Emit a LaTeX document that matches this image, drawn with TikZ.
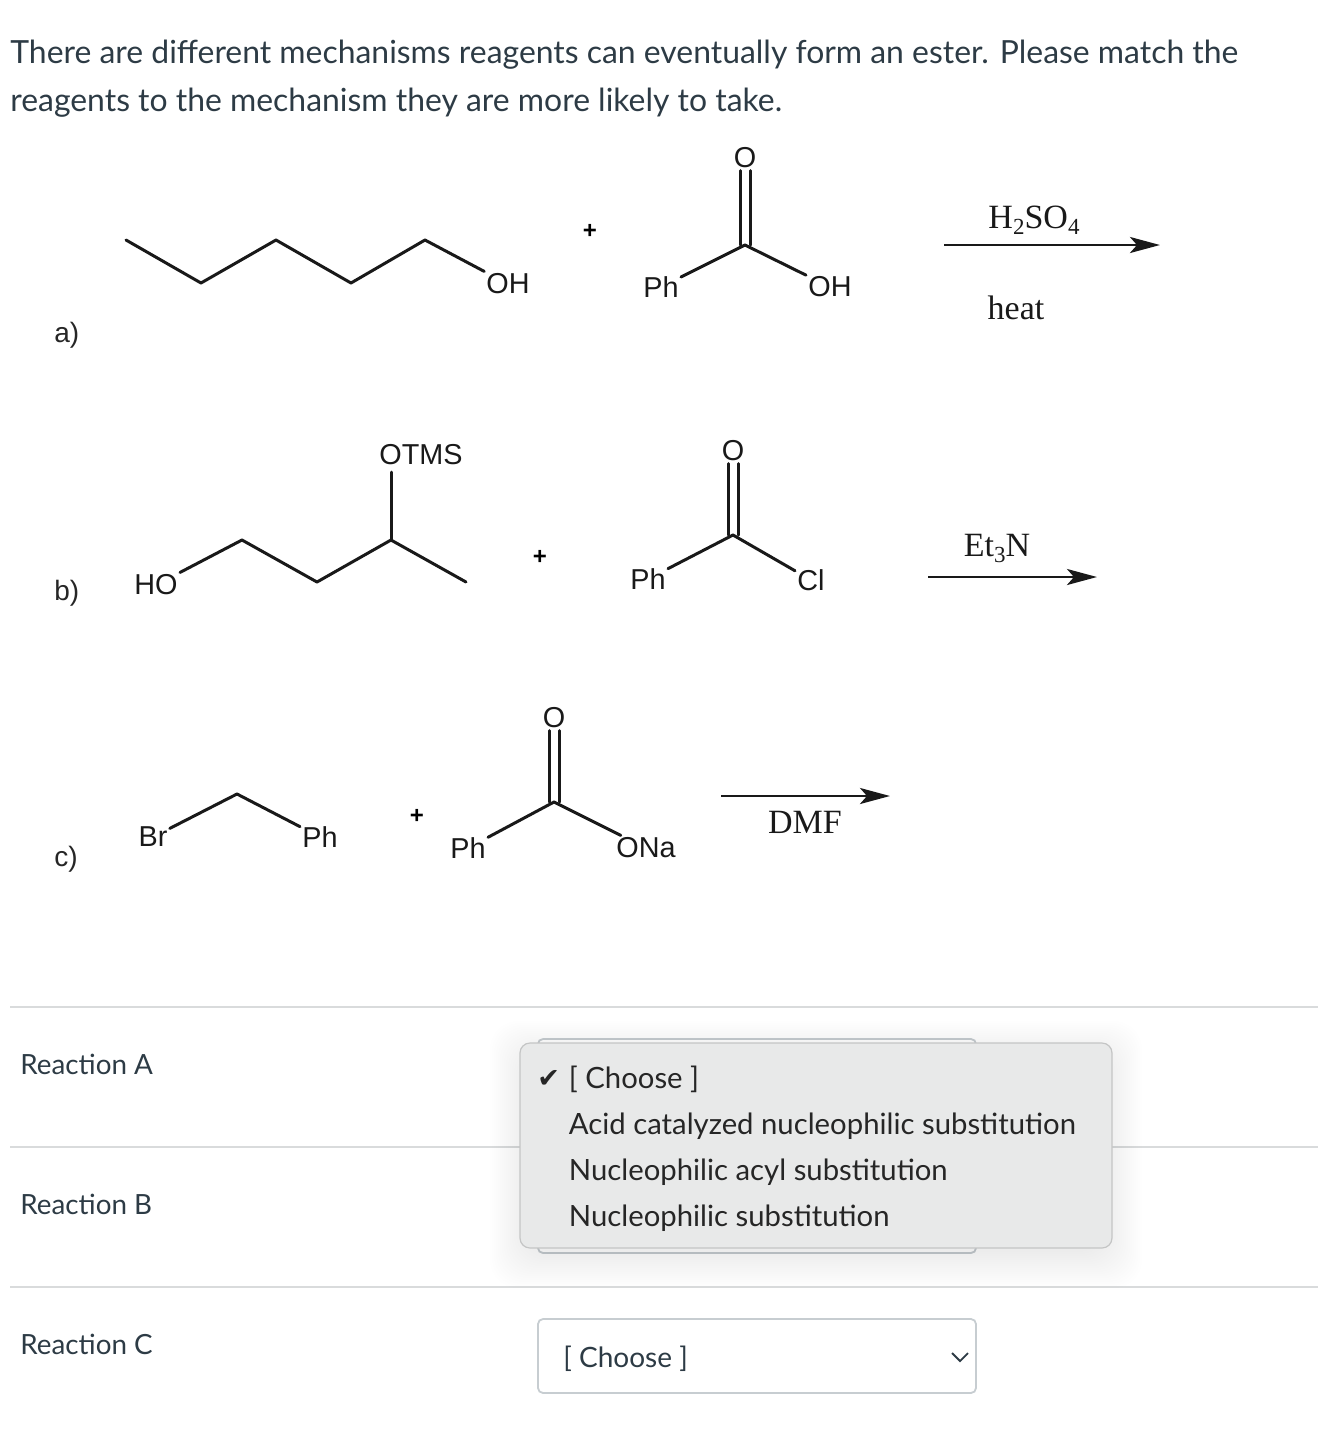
\documentclass[tikz,border=0pt]{standalone}
\usepackage{fontspec}
\setmainfont{Lato}
\newfontfamily\chem{Liberation Sans}
\newfontfamily\reag{Liberation Serif}
\newfontfamily\symb{DejaVu Sans}
\usetikzlibrary{arrows.meta}
\definecolor{ink}{HTML}{2D3B45}
\definecolor{rule}{HTML}{D9DBDC}
\definecolor{menu}{HTML}{E8E9E9}
\definecolor{menuedge}{HTML}{C4C5C5}
\definecolor{seledge}{HTML}{C7CDD1}
\newcommand{\rsub}[1]{\raisebox{-0.42ex}{\fontsize{11.5}{12}\selectfont #1}}
\tikzset{
  x=0.5pt,y=-0.5pt,
  body/.style={anchor=base west,inner sep=0pt,text=ink,font=\fontsize{15.95}{19}\selectfont},
  label/.style={anchor=base west,inner sep=0pt,text=ink,font=\fontsize{13.9}{17}\selectfont},
  partlabel/.style={anchor=base west,inner sep=0pt,text=black!85,font=\chem\fontsize{14}{17}\selectfont},
  menutxt/.style={anchor=base west,inner sep=0pt,text=black!85,font=\fontsize{14.65}{18}\selectfont},
  atom/.style={inner sep=1pt,text=black!90,font=\chem\fontsize{14.4}{17}\selectfont},
  plus/.style={inner sep=0pt,text=black,font=\chem\bfseries\fontsize{12}{14}\selectfont},
  reagent/.style={inner sep=0pt,text=black!90,font=\reag\fontsize{17}{20}\selectfont},
  bond/.style={draw=black!90,line width=1.5pt,line cap=round,line join=round},
  rxnarrow/.style={draw=black!90,line width=1.4pt,-{Stealth[length=15pt,width=8pt,inset=3.5pt]}},
  rowline/.style={draw=rule,line width=0.9pt},
  selectbox/.style={draw=seledge,line width=0.9pt,fill=white,rounded corners=2.5pt,minimum width=219pt,minimum height=37pt,inner sep=0pt},
  dropdown/.style={draw=menuedge,line width=0.6pt,fill=menu,rounded corners=5pt,minimum width=296pt,minimum height=102.5pt,inner sep=0pt}
}
\begin{document}
\begin{tikzpicture}
\useasboundingbox (0,0) rectangle (1318,1448);
% question
\node[body] (q1) at (10,63) {There are different mechanisms reagents can eventually form an ester. Please match the};
\node[body] (q2) at (10,111) {reagents to the mechanism they are more likely to take.};
\node[partlabel] (la) at (54,342) {a)};
\node[partlabel] (lb) at (54,600) {b)};
\node[partlabel] (lc) at (54,866) {c)};
% reaction a
\coordinate (a1) at (126,240);\coordinate (a2) at (201,283);\coordinate (a3) at (276,240);
\coordinate (a4) at (351,283);\coordinate (a5) at (425,240);
\node[atom] (aoh) at (508,284) {OH};
\draw[bond] (a1)--(a2)--(a3)--(a4)--(a5)--(aoh);
\node[plus] (ap) at (590,231) {+};
\coordinate (ac) at (745,245);
\node[atom] (ao) at (745,158) {O};
\node[atom] (aph) at (661,287) {Ph};
\node[atom] (aoh2) at (830,287) {OH};
\draw[bond] (aph)--(ac)--(aoh2);
\draw[bond] ([xshift=-2.5pt]ao.south)--([xshift=-2.5pt]ac);
\draw[bond] ([xshift=2.5pt]ao.south)--([xshift=2.5pt]ac);
\coordinate (aas) at (944,245);\coordinate (aae) at (1160,245);
\draw[rxnarrow] (aas)--(aae);
\node[reagent,anchor=base] (asul) at (1034,228) {H\rsub{2}SO\rsub{4}};
\node[reagent] (aheat) at (1016,308) {heat};
% reaction b
\node[atom] (bho) at (156,585) {HO};
\coordinate (b1) at (242,540);\coordinate (b2) at (317,582);\coordinate (b3) at (391,540);\coordinate (b4) at (466,582);
\node[atom] (botms) at (421,455) {OTMS};
\coordinate (botmsb) at (391,472);
\draw[bond] (bho)--(b1)--(b2)--(b3)--(b4);
\draw[bond] (b3)--(botmsb);
\node[plus] (bp) at (540,557) {+};
\coordinate (bc) at (733,535);
\node[atom] (bo) at (733,451) {O};
\node[atom] (bph) at (648,579) {Ph};
\node[atom] (bcl) at (811,580) {Cl};
\draw[bond] (bph)--(bc)--(bcl);
\draw[bond] ([xshift=-2.5pt]bo.south)--([xshift=-2.5pt]bc);
\draw[bond] ([xshift=2.5pt]bo.south)--([xshift=2.5pt]bc);
\coordinate (bas) at (928,577);\coordinate (bae) at (1097,577);
\draw[rxnarrow] (bas)--(bae);
\node[reagent,anchor=base] (bet) at (997,556) {Et\rsub{3}N};
% reaction c
\node[atom] (cbr) at (153,837) {Br};
\coordinate (c1) at (237,794);
\node[atom] (cph) at (320,837) {Ph};
\draw[bond] (cbr)--(c1)--(cph);
\node[plus] (cp) at (417,816) {+};
\coordinate (cc) at (554,802);
\node[atom] (co) at (554,718) {O};
\node[atom] (cph2) at (468,848) {Ph};
\node[atom] (cona) at (646,848) {ONa};
\draw[bond] (cph2)--(cc)--(cona);
\draw[bond] ([xshift=-2.5pt]co.south)--([xshift=-2.5pt]cc);
\draw[bond] ([xshift=2.5pt]co.south)--([xshift=2.5pt]cc);
\coordinate (cas) at (721,796);\coordinate (cae) at (890,796);
\draw[rxnarrow] (cas)--(cae);
\node[reagent] (cdmf) at (805,822) {DMF};
% rows
\coordinate (r1a) at (10,1007);\coordinate (r1b) at (1318,1007);
\coordinate (r2a) at (10,1147);\coordinate (r2b) at (1318,1147);
\coordinate (r3a) at (10,1287);\coordinate (r3b) at (1318,1287);
\draw[rowline] (r1a)--(r1b);
\draw[rowline] (r2a)--(r2b);
\draw[rowline] (r3a)--(r3b);
\node[label] (ra) at (20,1074) {Reaction A};
\node[label] (rb) at (20,1214) {Reaction B};
\node[label] (rc) at (20,1354) {Reaction C};
% selects
\node[selectbox] (s1) at (757,1076) {};
\node[selectbox] (s2) at (757,1216) {};
\node[selectbox] (s3) at (757,1356) {};
\node[anchor=base west,inner sep=0pt,text=ink,font=\fontsize{14}{17}\selectfont] (s3t) at (563,1367) {[ Choose ]};
\draw[draw=ink,line width=0.9pt] (952,1353)--(960,1361)--(968,1353);
% menu shadow
\foreach \g in {-6,-4,...,30}{
  \fill[black,opacity=0.005,rounded corners=14pt] ({520-\g},{1051-\g}) rectangle ({1112+\g},{1258+\g});
}
\node[dropdown] (menu) at (816,1145.5) {};
\node[anchor=base west,inner sep=0pt,text=black!85,font=\symb\fontsize{13.5}{15}\selectfont] (tick) at (537,1087) {✔};
\node[menutxt] (m0) at (568.5,1088) {[ Choose ]};
\node[menutxt] (m1) at (568.5,1134) {Acid catalyzed nucleophilic substitution};
\node[menutxt] (m2) at (568.5,1180) {Nucleophilic acyl substitution};
\node[menutxt] (m3) at (568.5,1226) {Nucleophilic substitution};
\end{tikzpicture}
\end{document}
